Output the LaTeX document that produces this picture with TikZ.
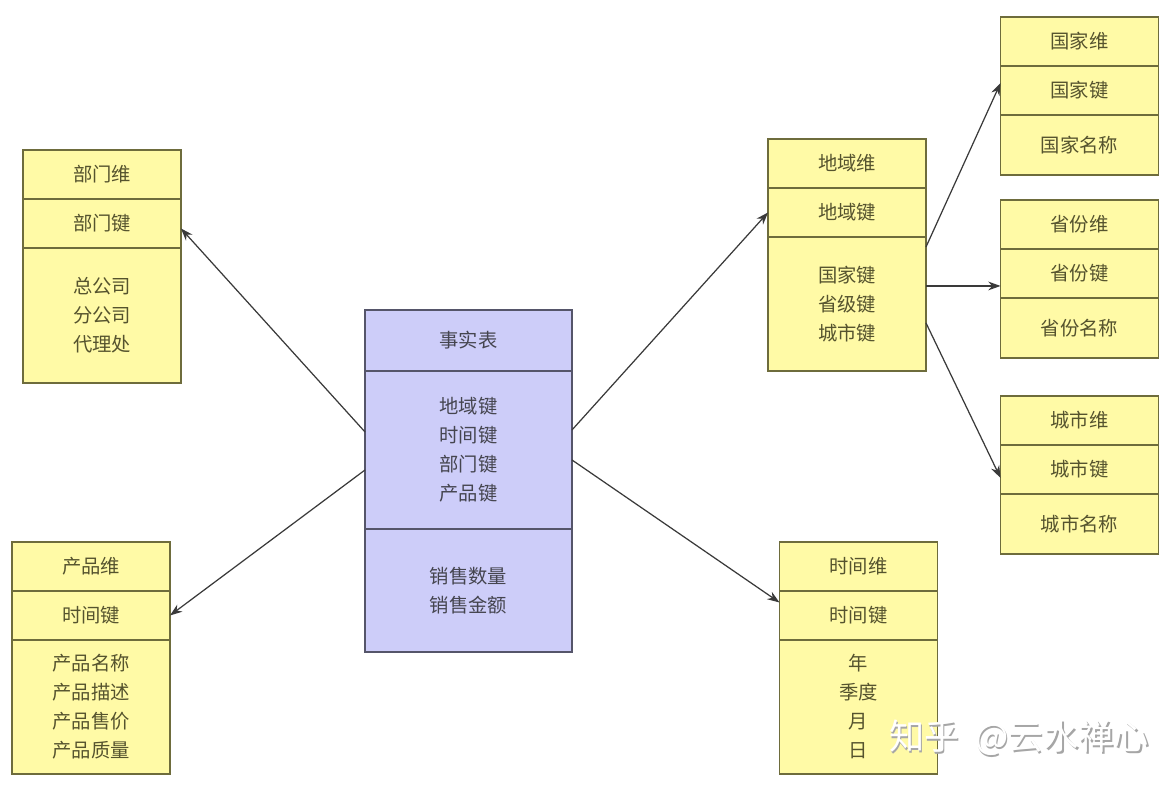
\documentclass[tikz,border=0pt]{standalone}
\usepackage{fontspec}
\newfontfamily\cjk{Noto Sans CJK SC}
\usepackage{tikz}
\usetikzlibrary{positioning, arrows.meta}
\definecolor{dimFill}{HTML}{FFFAA6}
\definecolor{dimLine}{HTML}{6E6C3C}
\definecolor{dimText}{HTML}{55532E}
\definecolor{factFill}{HTML}{CDCDF9}
\definecolor{factLine}{HTML}{55556A}
\definecolor{factText}{HTML}{45454F}
\definecolor{linkLine}{HTML}{3A3A3A}

\tikzset{
  dimrow/.style={draw=dimLine, fill=dimFill, text=dimText, line width=1.1pt,
    minimum width=3.16cm, minimum height=0.98cm, inner sep=0pt, outer sep=0pt,
    align=center, font=\cjk\fontsize{11}{16.5}\selectfont},
  factrow/.style={draw=factLine, fill=factFill, text=factText, line width=1.1pt,
    minimum width=4.14cm, inner sep=0pt, outer sep=0pt, align=center,
    font=\cjk\fontsize{11}{16.5}\selectfont},
  link/.style={draw=linkLine, line width=0.7pt, -{Stealth[length=7pt,width=5pt]}}
}

\begin{document}
\begin{tikzpicture}[x=0.02cm, y=-0.02cm]
    \useasboundingbox[fill=white] (0,0) rectangle (1176,786);

    % fact table
    \node[factrow, anchor=north, minimum height=1.22cm] (factHead) at (468.5,310) {事实表};
    \node[factrow, below=0pt of factHead, minimum height=3.16cm] (factKeys) {地域键\\时间键\\部门键\\产品键};
    \node[factrow, below=0pt of factKeys, minimum height=2.46cm] (factVals) {销售数量\\销售金额};

    % department dimension
    \node[dimrow, anchor=north] (deptHead) at (102,150) {部门维};
    \node[dimrow, below=0pt of deptHead] (deptKey) {部门键};
    \node[dimrow, below=0pt of deptKey, minimum height=2.7cm] (deptBody) {总公司\\分公司\\代理处};

    % product dimension
    \node[dimrow, anchor=north] (prodHead) at (91,542) {产品维};
    \node[dimrow, below=0pt of prodHead] (prodKey) {时间键};
    \node[dimrow, below=0pt of prodKey, minimum height=2.68cm] (prodBody) {产品名称\\产品描述\\产品售价\\产品质量};

    % region dimension
    \node[dimrow, anchor=north] (regionHead) at (847,139) {地域维};
    \node[dimrow, below=0pt of regionHead] (regionKey) {地域键};
    \node[dimrow, below=0pt of regionKey, minimum height=2.68cm] (regionBody) {国家键\\省级键\\城市键};

    % time dimension
    \node[dimrow, anchor=north] (timeHead) at (858.5,542) {时间维};
    \node[dimrow, below=0pt of timeHead] (timeKey) {时间键};
    \node[dimrow, below=0pt of timeKey, minimum height=2.68cm] (timeBody) {年\\季度\\月\\日};

    % country / province / city
    \node[dimrow, anchor=north] (countryHead) at (1079.5,17) {国家维};
    \node[dimrow, below=0pt of countryHead] (countryKey) {国家键};
    \node[dimrow, below=0pt of countryKey, minimum height=1.2cm] (countryBody) {国家名称};

    \node[dimrow, anchor=north] (provHead) at (1079.5,200) {省份维};
    \node[dimrow, below=0pt of provHead] (provKey) {省份键};
    \node[dimrow, below=0pt of provKey, minimum height=1.2cm] (provBody) {省份名称};

    \node[dimrow, anchor=north] (cityHead) at (1079.5,396) {城市维};
    \node[dimrow, below=0pt of cityHead] (cityKey) {城市键};
    \node[dimrow, below=0pt of cityKey, minimum height=1.2cm] (cityBody) {城市名称};

    % links
    \draw[link] ([yshift=0.36cm]factKeys.west) -- ([yshift=-0.1cm]deptKey.east);
    \draw[link] ([yshift=-0.4cm]factKeys.west) -- (prodKey.east);
    \draw[link] ([yshift=0.4cm]factKeys.east) -- (regionKey.west);
    \draw[link] ([yshift=-0.2cm]factKeys.east) -- ([yshift=0.26cm]timeKey.west);
    \draw[link] ([yshift=1.14cm]regionBody.east) -- ([yshift=0.15cm]countryKey.west);
    \draw[link] ([yshift=0.36cm]regionBody.east) -- ([yshift=0.36cm]regionBody.east -| provKey.west);
    \draw[link] ([yshift=-0.38cm]regionBody.east) -- ([yshift=-0.17cm]cityKey.west);

    % watermark
    \node[text=black!35, font=\cjk\fontsize{20}{24}\selectfont] (markShadow) at (1020.5,739.5) {知乎\ \ @云水禅心};
    \node[text=white, font=\cjk\fontsize{20}{24}\selectfont] (mark) at (1019,738) {知乎\ \ @云水禅心};
\end{tikzpicture}
\end{document}
